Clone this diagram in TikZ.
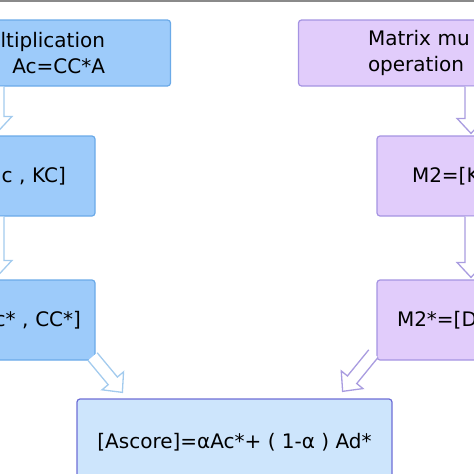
\documentclass[tikz,border=0pt]{standalone}
\usepackage{fontspec}
\setmainfont{DejaVu Sans}
\usepackage{tikz}
\usetikzlibrary{calc}
\definecolor{boxblue}{HTML}{9DCBFA}
\definecolor{edgeblue}{HTML}{6BAAE8}
\definecolor{boxpurple}{HTML}{E1CCFB}
\definecolor{edgepurple}{HTML}{A594E2}
\definecolor{boxlight}{HTML}{CDE5FC}
\definecolor{edgeindigo}{HTML}{6E6ED6}
\definecolor{arrblue}{HTML}{A3CBEE}
\definecolor{arrpurple}{HTML}{A99CE0}
\definecolor{topgray}{HTML}{8A8A8A}

% hollow block arrow: from, to, colour
\newcommand{\hollowarrow}[3]{%
  \draw[#3,fill=white,line width=1.3pt,line join=miter]
    let \p1=(#1), \p2=(#2), \n1={atan2(\y2-\y1,\x2-\x1)}, \n2={veclen(\x2-\x1,\y2-\y1)} in
    [shift={(\p1)},rotate=\n1]
    (0pt,6pt) -- ({\n2*1pt-15pt},6pt) -- ({\n2*1pt-15pt},14pt) -- ({\n2*1pt},0pt)
    -- ({\n2*1pt-15pt},-14pt) -- ({\n2*1pt-15pt},-6pt) -- (0pt,-6pt);
}

\begin{document}
\begin{tikzpicture}[x=1pt,y=-1pt,
  box/.style={draw,rounded corners=3pt,line width=1.2pt,inner sep=0pt,
    font=\fontsize{20}{26}\selectfont},
  bluebox/.style={box,fill=boxblue,draw=edgeblue},
  purplebox/.style={box,fill=boxpurple,draw=edgepurple},
  scorebox/.style={box,fill=boxlight,draw=edgeindigo}]
  \useasboundingbox (0,0) rectangle (474,474);
  \clip (0,0) rectangle (474,474);
  \fill[topgray] (0,0) rectangle (474,2);

  % left column
  \node[bluebox,minimum width=345pt,minimum height=66pt,text width=214pt,align=right] (mulA) at (-2,53) {ltiplication\\: Ac=CC*A};
  \node[bluebox,minimum width=194pt,minimum height=80pt,text width=136pt,align=right] (pairA) at (-2,176) {c , KC]};
  \node[bluebox,minimum width=194pt,minimum height=80pt,text width=166pt,align=right] (starA) at (-2,320) {c* , CC*]};

  % right column
  \node[purplebox,minimum width=345pt,minimum height=66pt,text width=206pt,align=left] (mulB) at (471,53) {Matrix mu\\operation};
  \node[purplebox,minimum width=188pt,minimum height=80pt,text width=118pt,align=left] (pairB) at (471,176) {M2=[K};
  \node[purplebox,minimum width=188pt,minimum height=80pt,text width=148pt,align=left] (starB) at (471,320) {M2*=[D};

  % result
  \node[scorebox,minimum width=315pt,minimum height=86pt] (score) at (234.5,442) {[Ascore]=αAc*+ ( 1-α ) Ad*};

  \coordinate (tipL) at ($(score.north west)+(46,-6)$);
  \coordinate (tipR) at ($(score.north east)+(-50,-7)$);

  \hollowarrow{mulA.south}{$(pairA.north)+(0,-4)$}{arrblue}
  \hollowarrow{pairA.south}{$(starA.north)+(0,-4)$}{arrblue}
  \hollowarrow{mulB.south}{$(pairB.north)+(0,-2)$}{arrpurple}
  \hollowarrow{pairB.south}{$(starB.north)+(0,-2)$}{arrpurple}
  \hollowarrow{$(starA.south east)+(-3,-4)$}{tipL}{arrblue}
  \hollowarrow{$(starB.south west)+(-3,-7)$}{tipR}{arrpurple}
\end{tikzpicture}
\end{document}
